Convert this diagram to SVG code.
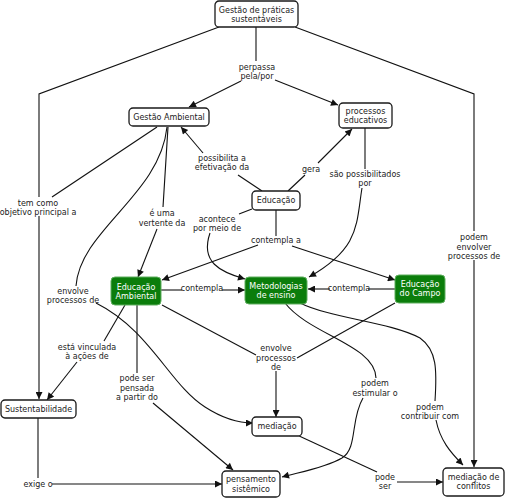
<svg xmlns="http://www.w3.org/2000/svg" width="505" height="499" viewBox="0 0 505 499">
<style>
.bg{fill:#ffffff}
.n{fill:#ffffff;stroke:#1a1a1a;stroke-width:1.3}
.g{fill:#0b7d0b;stroke:#5fae5f;stroke-width:1}
.t{font-family:"DejaVu Sans",Verdana,sans-serif;font-size:8px;fill:#222;text-anchor:middle}
.tw{font-family:"DejaVu Sans",Verdana,sans-serif;font-size:8px;fill:#ffffff;text-anchor:middle}
.c{fill:none;stroke:#111;stroke-width:1.1}
.a{marker-end:url(#ah)}
</style>
<defs>
<marker id="ah" markerUnits="userSpaceOnUse" markerWidth="9" markerHeight="7" viewBox="0 0 10 10" refX="10" refY="5" orient="auto">
<path d="M0,0 L10,5 L0,10 z" fill="#111"/>
</marker>
</defs>
<rect class="bg" x="0" y="0" width="505" height="499"/>
<g id="connectors">
<path class="c" d="M219,27 L39,94 L39,197"/>
<path class="c" d="M157,127 L52,197"/>
<path class="c a" d="M39,216 L39,399"/>
<path class="c" d="M295,27 L474,94 L474,231"/>
<path class="c a" d="M474,260 L474,467"/>
<path class="c" d="M256,27 L256,61"/>
<path class="c a" d="M241,81 L189,107"/>
<path class="c a" d="M275,80 L338,105"/>
<path class="c" d="M262,191 L238,175"/>
<path class="c a" d="M203,153 L181,127"/>
<path class="c" d="M288,191 L305,175"/>
<path class="c a" d="M318,163 L352,129"/>
<path class="c" d="M365,128 L365,169"/>
<path class="c a" d="M362,188 C356,225 360,248 309,277"/>
<path class="c" d="M252,209 L239,214"/>
<path class="c a" d="M210,233 C200,262 220,272 245,279"/>
<path class="c" d="M276,210 L276,236"/>
<path class="c a" d="M258,245 L162,280"/>
<path class="c a" d="M292,246 L395,280"/>
<path class="c" d="M161,290 L182,290"/>
<path class="c a" d="M222,290 L245,290"/>
<path class="c" d="M395,289 L368,289"/>
<path class="c a" d="M330,289 L308,289"/>
<path class="c" d="M168,127 L163,207"/>
<path class="c a" d="M157,229 L138,277"/>
<path class="c" d="M167,127 C160,195 80,230 76,286"/>
<path class="c a" d="M96,303 C150,330 170,385 205,407 C222,418 238,423 253,423"/>
<path class="c" d="M125,305 L104,341"/>
<path class="c a" d="M77,362 L47,400"/>
<path class="c" d="M137,305 L137,373"/>
<path class="c a" d="M153,403 L233,470"/>
<path class="c" d="M162,305 L256,355"/>
<path class="c" d="M395,303 L297,358"/>
<path class="c a" d="M276,371 L276,417"/>
<path class="c" d="M285,303 C310,335 375,345 376,378"/>
<path class="c a" d="M363,398 C350,420 358,448 342,458 C325,468 300,472 282,477"/>
<path class="c" d="M300,303 C330,318 390,322 420,338 C437,350 437,370 435,401"/>
<path class="c a" d="M436,420 C440,440 450,452 463,465"/>
<path class="c" d="M297,435 L377,472"/>
<path class="c a" d="M397,482 L443,482"/>
<path class="c" d="M38,418 L38,478"/>
<path class="c a" d="M52,484 L222,484"/>
</g>
<g id="labels">
<text class="t" x="257" y="70">perpassa</text><text class="t" x="257" y="79">pela/por</text>
<text class="t" x="222" y="161">possibilita a</text><text class="t" x="222" y="170">efetivação da</text>
<text class="t" x="311" y="172">gera</text>
<text class="t" x="365" y="177">são possibilitados</text><text class="t" x="365" y="186">por</text>
<text class="t" x="38" y="206">tem como</text><text class="t" x="38" y="215">objetivo principal a</text>
<text class="t" x="162" y="216">é uma</text><text class="t" x="162" y="226">vertente da</text>
<text class="t" x="217" y="222">acontece</text><text class="t" x="217" y="231">por meio de</text>
<text class="t" x="276" y="243">contempla a</text>
<text class="t" x="474" y="240">podem</text><text class="t" x="474" y="250">envolver</text><text class="t" x="474" y="259">processos de</text>
<text class="t" x="202" y="291">contempla</text>
<text class="t" x="349" y="291">contempla</text>
<text class="t" x="73" y="294">envolve</text><text class="t" x="73" y="303">processos de</text>
<text class="t" x="87" y="350">está vinculada</text><text class="t" x="87" y="359">à ações de</text>
<text class="t" x="276" y="351">envolve</text><text class="t" x="276" y="361">processos</text><text class="t" x="276" y="370">de</text>
<text class="t" x="137" y="381">pode ser</text><text class="t" x="137" y="391">pensada</text><text class="t" x="137" y="400">a partir do</text>
<text class="t" x="375" y="386">podem</text><text class="t" x="375" y="396">estimular o</text>
<text class="t" x="430" y="410">podem</text><text class="t" x="430" y="419">contribuir com</text>
<text class="t" x="385" y="480">pode</text><text class="t" x="385" y="489">ser</text>
<text class="t" x="38" y="487">exige o</text>
</g>
<g id="n-gestao-praticas"><rect class="n" x="215" y="1" width="83" height="26" rx="4"/><text class="t" x="256.5" y="13">Gestão de práticas</text><text class="t" x="256.5" y="22">sustentáveis</text></g>
<g id="n-gestao-ambiental"><rect class="n" x="129" y="108" width="80" height="18" rx="4"/><text class="t" x="169" y="120">Gestão Ambiental</text></g>
<g id="n-processos-educativos"><rect class="n" x="339" y="103" width="53" height="25" rx="4"/><text class="t" x="365.5" y="113.5">processos</text><text class="t" x="365.5" y="122.5">educativos</text></g>
<g id="n-educacao"><rect class="n" x="252" y="191" width="48" height="19" rx="4"/><text class="t" x="276" y="203">Educação</text></g>
<g id="n-educacao-ambiental"><rect class="g" x="111" y="277" width="50" height="28" rx="4"/><text class="tw" x="136" y="289.5">Educação</text><text class="tw" x="136" y="298.5">Ambiental</text></g>
<g id="n-metodologias"><rect class="g" x="245" y="277" width="62" height="27" rx="4"/><text class="tw" x="276" y="289">Metodologias</text><text class="tw" x="276" y="298">de ensino</text></g>
<g id="n-educacao-campo"><rect class="g" x="395" y="275" width="50" height="28" rx="4"/><text class="tw" x="420" y="287">Educação</text><text class="tw" x="420" y="296">do Campo</text></g>
<g id="n-sustentabilidade"><rect class="n" x="1" y="400" width="75" height="18" rx="4"/><text class="t" x="38.5" y="412">Sustentabilidade</text></g>
<g id="n-mediacao"><rect class="n" x="252" y="417" width="50" height="19" rx="4"/><text class="t" x="277" y="429">mediação</text></g>
<g id="n-pensamento"><rect class="n" x="222" y="471" width="58" height="26" rx="4"/><text class="t" x="251" y="482">pensamento</text><text class="t" x="251" y="492">sistêmico</text></g>
<g id="n-mediacao-conflitos"><rect class="n" x="443" y="468" width="61" height="28" rx="4"/><text class="t" x="473.5" y="480">mediação de</text><text class="t" x="473.5" y="489">conflitos</text></g>
</svg>
